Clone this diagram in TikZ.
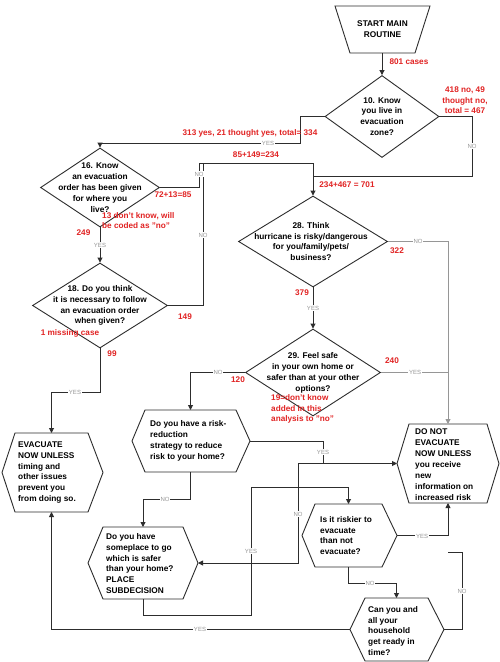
\documentclass[tikz,border=0pt]{standalone}
\usepackage{fontspec}
\setmainfont{Liberation Sans}
\usetikzlibrary{arrows.meta,shapes.geometric}
\definecolor{redt}{RGB}{225,35,35}
\definecolor{grayl}{RGB}{150,150,150}
\definecolor{linec}{RGB}{45,45,45}
\newcommand\hexbox[7]{%
  \coordinate (#1-w) at (#2,{(#6+#7)/2});
  \coordinate (#1-e) at (#5,{(#6+#7)/2});
  \coordinate (#1-n) at ({(#3+#4)/2},#6);
  \coordinate (#1-s) at ({(#3+#4)/2},#7);
  \draw[box] (#1-w) -- (#3,#6) -- (#4,#6) -- (#1-e) -- (#4,#7) -- (#3,#7) -- cycle;
}
\begin{document}
\begin{tikzpicture}[x=1pt,y=-1pt,
  box/.style={draw=linec, line width=0.9pt},
  conn/.style={draw=linec, line width=0.9pt},
  gconn/.style={draw=grayl, line width=0.9pt},
  arr/.style={-{Triangle[length=5pt,width=5pt]}},
  dia/.style={draw=linec, line width=0.9pt, shape=diamond, inner sep=0pt},
  txt/.style={font=\fontsize{8.3}{10.9}\selectfont\bfseries, inner sep=0pt, align=center, text=black},
  ltxt/.style={txt, align=left, anchor=west},
  redl/.style={font=\fontsize{8.2}{10.6}\selectfont\bfseries, text=redt, inner sep=0pt, align=center},
  lab/.style={font=\fontsize{6}{6}\selectfont, text=grayl, fill=white, inner sep=0.8pt},
]
\useasboundingbox (0,0) rectangle (500,662);
\fill[white] (0,0) rectangle (500,662);

% start
\draw[box] (335,6) -- (430,6) -- (415,53) -- (350,53) -- cycle;
\coordinate (start-s) at (382,53);
\node[txt] (startt) at (382.5,29) {START MAIN\\ROUTINE};

% diamonds
\node[dia, minimum width=114pt, minimum height=82pt] (d10) at (382,116.5) {};
\node[txt] (d10t) at (382,116.5) {10. Know\\you live in\\evacuation\\zone?};
\node[dia, minimum width=119pt, minimum height=79pt] (d16) at (100,187.5) {};
\node[txt] (d16t) at (100,187.5) {16. Know\\an evacuation\\order has been given\\for where you\\live?};
\node[dia, minimum width=135pt, minimum height=85pt] (d18) at (100,305.5) {};
\node[txt] (d18t) at (100,305.5) {18. Do you think\\it is necessary to follow\\an evacuation order\\when given?};
\node[dia, minimum width=149pt, minimum height=91pt] (d28) at (313,241.5) {};
\node[txt] (d28t) at (311,241.5) {28. Think\\hurricane is risky/dangerous\\for you/family/pets/\\business?};
\node[dia, minimum width=135pt, minimum height=87pt] (d29) at (313,372.5) {};
\node[txt] (d29t) at (313,372.5) {29. Feel safe\\in your own home or\\safer than at your other\\options?};

% hexagons
\hexbox{risk}{132}{145}{236}{250}{410}{472}
\node[ltxt] (riskt) at (150,440.5) {Do you have a risk-\\reduction\\strategy to reduce\\risk to your home?};
\hexbox{evac}{2}{15}{88}{103}{433}{512}
\node[ltxt] (evact) at (18,472.5) {EVACUATE\\NOW UNLESS\\timing and\\other issues\\prevent you\\from doing so.};
\hexbox{dne}{397}{409}{487}{499}{424}{503}
\node[ltxt] (dnet) at (415,464.5) {DO NOT\\EVACUATE\\NOW UNLESS\\you receive\\new\\information on\\increased risk};
\hexbox{some}{88}{103}{183}{198}{527}{599}
\node[ltxt] (somet) at (106,563.5) {Do you have\\someplace to go\\which is safer\\than your home?\\PLACE\\SUBDECISION};
\hexbox{riskier}{302}{315}{382}{397}{504}{567}
\node[ltxt] (riskiert) at (320,535.5) {Is it riskier to\\evacuate\\than not\\evacuate?};
\hexbox{canyou}{350}{365}{428}{444}{598}{661}
\node[ltxt] (canyout) at (368,631) {Can you and\\all your\\household\\get ready in\\time?};

% connectors
\coordinate (m1) at (313,176);
\coordinate (m2) at (203,163);
\coordinate (m3) at (448,372.5);
\coordinate (m4) at (448,552);
\coordinate (j1) at (298,463.5);
\draw[conn,arr] (start-s) -- (d10.north);
\draw[conn,arr] (d10.west) -- (300,116.5) -- (300,143) -| (d16.north);
\draw[conn] (d10.east) -| (472,176) -- (m1);
\draw[conn,arr] (d16.east) -| (199,163) -| (d28.north);
\draw[conn] (d18.east) -| (m2);
\draw[conn,arr] (d16.south) -- (d18.north);
\draw[conn,arr] (d18.south) -- (100,392) -| (evac-n);
\draw[gconn,arr] (d28.east) -| (dne-n);
\draw[conn,arr] (d28.south) -- (d29.north);
\draw[gconn] (d29.east) -- (m3);
\draw[conn,arr] (d29.west) -| (risk-n);
\draw[conn] (risk-e) -| (323,463.5);
\draw[conn,arr] (j1) -- (dne-w);
\draw[conn,arr] (j1) |- (some-e);
\draw[conn,arr] (risk-s) -- (190.5,499) -| (some-n);
\draw[conn,arr] (some-s) |- (251,615) -- (251,487) -| (riskier-n);
\draw[conn,arr] (riskier-e) -| (dne-s);
\draw[conn,arr] (riskier-s) -- (348.5,583) -| (canyou-n);
\draw[conn] (canyou-e) -- (462,629.5) |- (m4);
\draw[conn,arr] (canyou-w) -| (evac-s);

% gray labels
\node[lab] (l1) at (472,146) {NO};
\node[lab] (l2) at (268,143) {YES};
\node[lab] (l3) at (199,174) {NO};
\node[lab] (l4) at (203,235) {NO};
\node[lab] (l5) at (100,245) {YES};
\node[lab] (l6) at (418,241.5) {NO};
\node[lab] (l7) at (313,308) {YES};
\node[lab] (l8) at (415,372.5) {YES};
\node[lab] (l9) at (218,372.5) {NO};
\node[lab] (l10) at (75,392) {YES};
\node[lab] (l11) at (323,452) {YES};
\node[lab] (l12) at (165,499) {NO};
\node[lab] (l13) at (298,514) {NO};
\node[lab] (l14) at (251,551) {YES};
\node[lab] (l15) at (422,536) {YES};
\node[lab] (l16) at (370,583) {NO};
\node[lab] (l17) at (462,591) {NO};
\node[lab] (l18) at (200,629.5) {YES};

% red labels
\node[redl] (r1) at (409,62) {801 cases};
\node[redl] (r2) at (465,100.5) {418 no, 49\\thought no,\\total = 467};
\node[redl] (r3) at (250,133) {313 yes, 21 thought yes, total= 334};
\node[redl] (r4) at (173,195) {72+13=85};
\node[redl, align=left, anchor=west] (r5) at (102,220.5) {13 don't know, will\\be coded as "no"};
\node[redl] (r6) at (83.5,233) {249};
\node[redl] (r7) at (256,155) {85+149=234};
\node[redl] (r8) at (347,185) {234+467 = 701};
\node[redl] (r9) at (397,251) {322};
\node[redl] (r10) at (302,293) {379};
\node[redl] (r11) at (185,316.5) {149};
\node[redl] (r12) at (70,333.5) {1 missing case};
\node[redl] (r13) at (112,354) {99};
\node[redl] (r14) at (392,361) {240};
\node[redl] (r15) at (238,380) {120};
\node[redl, align=left, anchor=west] (r16) at (271,409) {19=don't know\\added in this\\analysis to "no"};
\end{tikzpicture}
\end{document}
